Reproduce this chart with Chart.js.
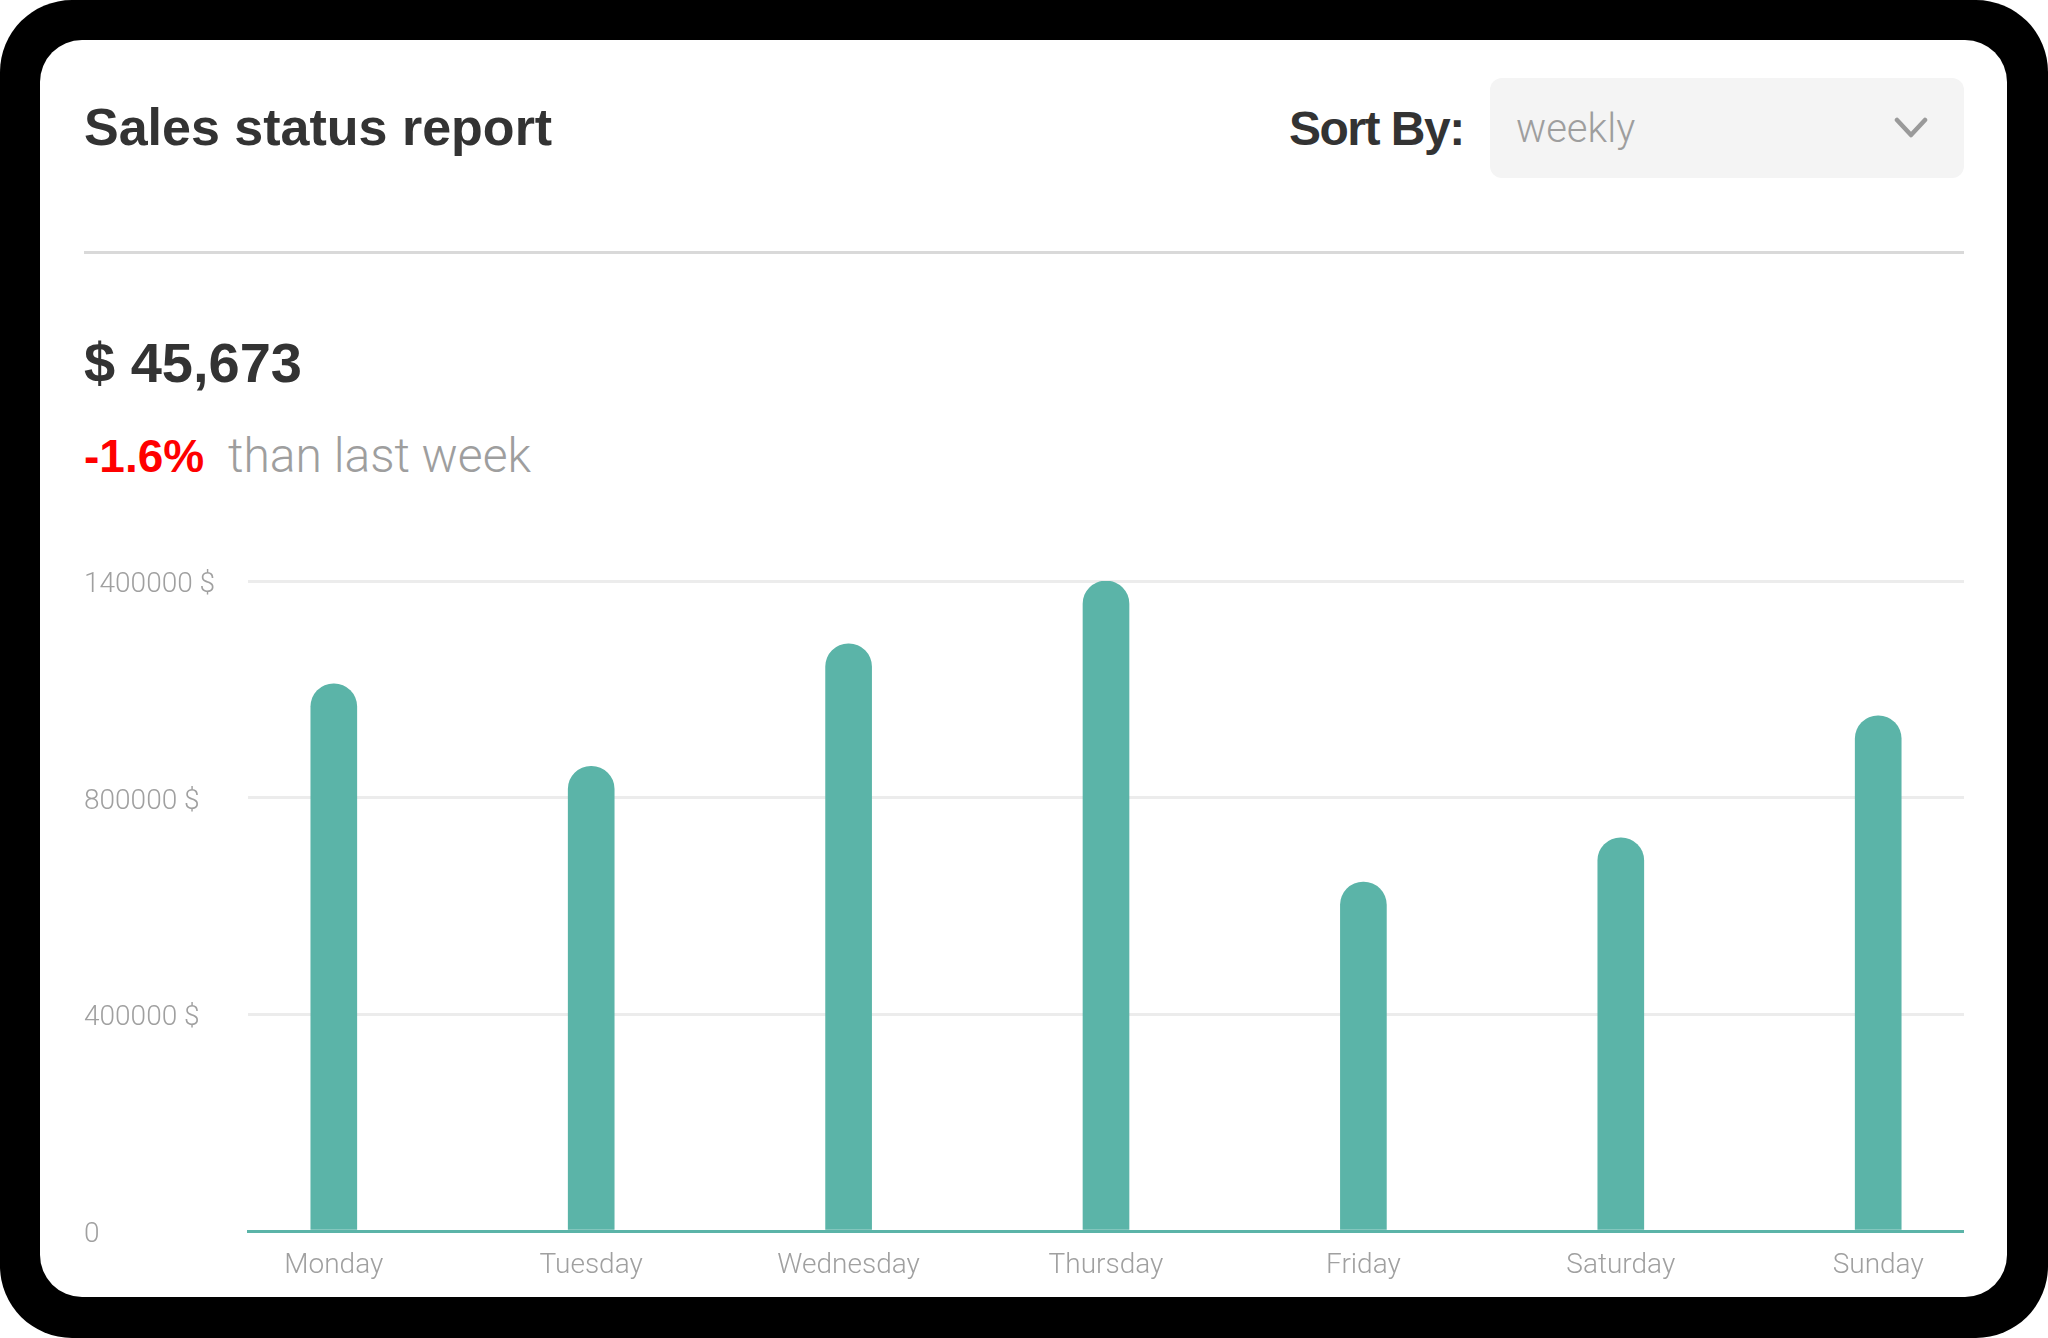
<!DOCTYPE html>
<html>
<head>
<meta charset="utf-8">
<title>Sales status report</title>
<script src="https://cdn.jsdelivr.net/npm/chart.js@4.4.1/dist/chart.umd.min.js"></script>
<style>
  html, body { margin: 0; padding: 0; background: #fff; }
  body { width: 2048px; height: 1338px; position: relative; overflow: hidden; }
  .frame { position: absolute; left: 0; top: 0; width: 2048px; height: 1338px; background: #000; border-radius: 72px; }
  .card { position: absolute; left: 40px; top: 40px; width: 1967px; height: 1257px; background: #fff; border-radius: 42px; }
  .txt { position: absolute; line-height: 1; white-space: nowrap; }
  .bold { font-family: "Liberation Sans", Arial, sans-serif; font-weight: 700; color: #333; }
  .light { font-family: Roboto, "Liberation Sans", sans-serif; font-weight: 300; color: #9e9e9e; }
  #title { left: 84px; top: 101px; font-size: 52px; }
  #sortLabel { left: 1289px; top: 105px; font-size: 48px; letter-spacing: -1.5px; }
  .select { position: absolute; left: 1490px; top: 78px; width: 474px; height: 100px; background: #f4f4f4; border-radius: 12px; }
  #sortValue { left: 1516px; top: 109px; font-size: 40px; }
  .chevron { position: absolute; left: 1894px; top: 116px; }
  .divider { position: absolute; left: 84px; top: 251px; width: 1880px; height: 3px; background: #d9d9d9; }
  #total { left: 84px; top: 335px; font-size: 56px; }
  #change { left: 84px; top: 433px; font-size: 46px; color: #ff0000; }
  #changeText { left: 228px; top: 432px; font-size: 48px; }
  .chart-box { position: absolute; left: 84px; top: 550px; width: 1880px; height: 740px; }
</style>
</head>
<body>
<div class="frame"></div>
<div class="card"></div>

<div id="title" class="txt bold">Sales status report</div>
<div id="sortLabel" class="txt bold">Sort By:</div>
<div class="select"></div>
<div id="sortValue" class="txt light">weekly</div>
<svg class="chevron" width="34" height="24" viewBox="0 0 34 24">
  <polyline points="3,4 17,19 31,4" fill="none" stroke="#9a9a9a" stroke-width="4.5" stroke-linecap="round" stroke-linejoin="round"/>
</svg>
<div class="divider"></div>

<div id="total" class="txt bold">$ 45,673</div>
<div id="change" class="txt bold">-1.6%</div>
<div id="changeText" class="txt light">than last week</div>

<div class="chart-box"><canvas id="chartSales"></canvas></div>

<script>
// --- Datos ---
const days = ["Monday", "Tuesday", "Wednesday", "Thursday", "Friday", "Saturday", "Sunday"];
const sales = [1010000, 858000, 1084000, 1200000, 644000, 726000, 951000];
// las marcas del eje Y están equiespaciadas; la de arriba viene rotulada como 1400000 $
const yTickValues = [0, 400000, 800000, 1200000];
const yTickLabels = ["0", "400000 $", "800000 $", "1400000 $"];

const TEAL = "#5bb4a8";
const GREY = "#a0a0a0";
const tickFont = { family: "Roboto, 'Liberation Sans', sans-serif", size: 28, weight: "300" };

new Chart(document.getElementById("chartSales"), {
  type: "bar",
  data: {
    datasets: [
      {
        label: "Sales",
        data: sales.map((v, i) => ({ x: i, y: v })),
        backgroundColor: TEAL,
        barThickness: 46,
        borderRadius: 23,
        borderSkipped: "start",
      },
    ],
  },
  options: {
    responsive: true,
    maintainAspectRatio: false,
    devicePixelRatio: 1,
    animation: false,
    layout: { padding: { top: 31, right: 0, left: 0, bottom: 0 } },
    plugins: { legend: { display: false }, tooltip: { enabled: false } },
    scales: {
      x: {
        type: "linear",
        offset: false,
        min: -1 / 3,
        max: days.length - 1 + 1 / 3,
        afterBuildTicks: (scale) => {
          scale.ticks = days.map((_, i) => ({ value: i }));
        },
        afterFit: (scale) => {
          scale.height = 59;
        },
        grid: { display: false, drawTicks: false, offset: false },
        border: { display: true, color: TEAL, width: 3 },
        ticks: {
          autoSkip: false,
          maxRotation: 0,
          padding: 18,
          color: GREY,
          font: tickFont,
          callback: (v) => days[v] ?? "",
        },
      },
      y: {
        min: 0,
        max: yTickValues[yTickValues.length - 1],
        afterBuildTicks: (scale) => {
          scale.ticks = yTickValues.map((v) => ({ value: v }));
        },
        afterFit: (scale) => {
          scale.width = 164;
        },
        grid: { color: "#ececec", lineWidth: 3, drawTicks: false },
        border: { display: false },
        ticks: {
          crossAlign: "far",
          padding: 0,
          labelOffset: 4,
          color: GREY,
          font: tickFont,
          callback: (v, i) => yTickLabels[i],
        },
      },
    },
  },
});
</script>
</body>
</html>
